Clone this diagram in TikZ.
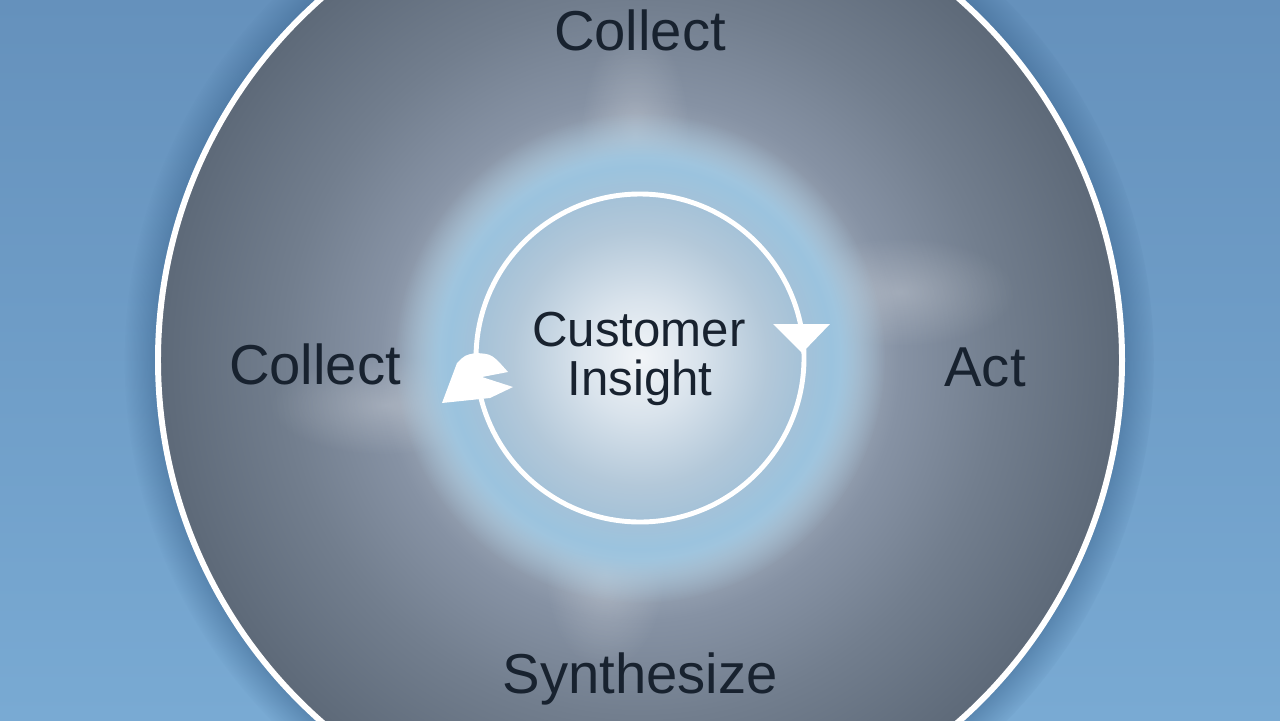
\documentclass[tikz,border=0pt]{standalone}
\usepackage{fontspec}
\setmainfont{Liberation Sans}
\usetikzlibrary{fadings}
\definecolor{bgtop}{HTML}{6591BC}
\definecolor{bgbot}{HTML}{79AAD3}
\definecolor{halo}{HTML}{3C6690}
\definecolor{dA}{HTML}{A7B3C2}
\definecolor{dB}{HTML}{8692A4}
\definecolor{dC}{HTML}{727E8E}
\definecolor{dD}{HTML}{5D6978}
\definecolor{gA}{HTML}{F2F5F8}
\definecolor{gB}{HTML}{D9E3EC}
\definecolor{gC}{HTML}{B3C8D9}
\definecolor{gD}{HTML}{A5C2D8}
\definecolor{gE}{HTML}{9BC3DE}
\definecolor{gF}{HTML}{A8C8DE}
\definecolor{ink}{HTML}{18222F}
\pgfdeclareradialshading{discshade}{\pgfpointorigin}{color(0bp)=(dA); color(10bp)=(dA); color(13.5bp)=(dB); color(18.5bp)=(dC); color(25bp)=(dD); color(50bp)=(dD)}
\pgfdeclareradialshading{glowshade}{\pgfpointorigin}{color(0bp)=(gA); color(6bp)=(gB); color(13bp)=(gC); color(16.5bp)=(gD); color(19.5bp)=(gE); color(22.5bp)=(gF); color(50bp)=(gF)}
\pgfdeclareradialshading{softfadeshade}{\pgfpointorigin}{color(0bp)=(white); color(25bp)=(black); color(50bp)=(black)}
\pgfdeclareradialshading{glowfadeshade}{\pgfpointorigin}{color(0bp)=(white); color(20.5bp)=(white); color(25bp)=(black); color(50bp)=(black)}
\pgfdeclareradialshading{shadowfadeshade}{\pgfpointorigin}{color(0bp)=(white); color(23.3bp)=(white); color(25bp)=(black); color(50bp)=(black)}
\pgfdeclarefading{softfade}{\pgfuseshading{softfadeshade}}
\pgfdeclarefading{glowfade}{\pgfuseshading{glowfadeshade}}
\pgfdeclarefading{shadowfade}{\pgfuseshading{shadowfadeshade}}
\tikzset{
  lab/.style={text=ink, font=\fontsize{32}{36}\selectfont, anchor=base, inner sep=0pt},
  corelab/.style={text=ink, font=\fontsize{28}{30}\selectfont, anchor=base, inner sep=0pt},
  ring/.style={draw=white, line width=2.8pt},
  rim/.style={draw=white, line width=3.4pt},
  tip/.style={fill=white, draw=none},
  streak/.style={fill=white, opacity=0.24, path fading=softfade}
}
\begin{document}
\begin{tikzpicture}[x=0.02cm, y=0.02cm]
\useasboundingbox (0,0) rectangle (1280,-720);
\shade[top color=bgtop, bottom color=bgbot] (0,0) rectangle (1280,-720);
\coordinate (o) at (640,-360);
\coordinate (c) at (640,-358);
% halo shadow
\fill[halo, opacity=0.55, path fading=shadowfade] (o) circle (515);
% outer disc
\shade[shading=discshade] (o) circle (482);
% light streaks
\fill[streak] (635,-135) ellipse (55 and 110);
\fill[streak] (385,-405) ellipse (115 and 50);
\fill[streak] (900,-292) ellipse (115 and 55);
\fill[streak] (605,-575) ellipse (60 and 95);
% glow
\shade[shading=glowshade, path fading=glowfade] (c) circle (245);
% outer rim
\draw[rim] (o) circle (482);
% inner loop
\draw[ring] (c) circle (164);
\fill[tip] (773,-324) -- (830,-324) -- (802,-353) -- cycle;
\fill[tip] (457,-363) .. controls (465,-355) .. (476,-353) .. controls (492,-354) .. (508,-372) -- (482,-377) -- (513,-387) -- (490,-398) -- (442,-403) -- cycle;
% labels
\node[lab] (ltop) at (640,-50) {Collect};
\node[lab] (lleft) at (315,-384) {Collect};
\node[lab] (lright) at (985,-386) {Act};
\node[lab] (lbot) at (640,-693) {Synthesize};
\node[corelab] (ci1) at (639,-346) {Customer};
\node[corelab] (ci2) at (640,-395) {Insight};
\end{tikzpicture}
\end{document}
